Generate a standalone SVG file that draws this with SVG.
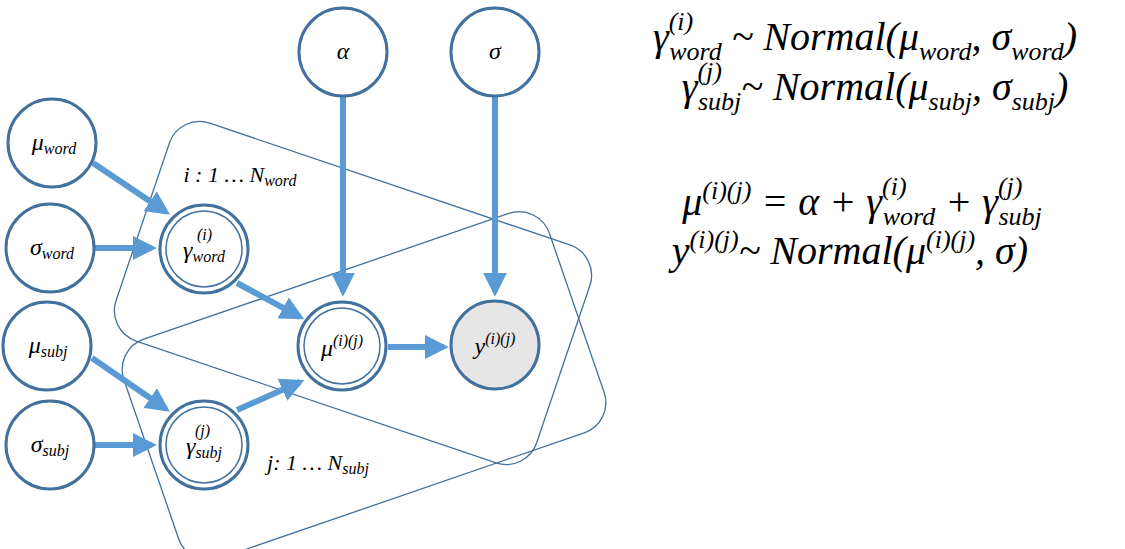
<svg xmlns="http://www.w3.org/2000/svg" width="1125" height="549" viewBox="0 0 1125 549">
<style>
.n{fill:#fff;stroke:#41719c;stroke-width:3}
.n2{fill:none;stroke:#41719c;stroke-width:1.5}
.p{fill:none;stroke:#41719c;stroke-width:1.3}
.e{stroke:#5b9bd5;stroke-width:6;fill:none;marker-end:url(#a)}
text{font-family:"Liberation Serif","DejaVu Serif",serif;font-style:italic;fill:#000}
.t{font-size:24px;text-anchor:middle}
.s{font-size:16px}
.q{font-size:40px;text-anchor:middle}
.qs{font-size:26px}
</style>
<defs>
<marker id="a" markerWidth="4" markerHeight="4" refX="3.2" refY="2" orient="auto" markerUnits="strokeWidth"><path d="M0,0L4,2L0,4z" fill="#5b9bd5"/></marker>
</defs>
<g id="plates">
<rect class="p" x="-222" y="-115" width="444" height="230" rx="32" transform="translate(353,293) rotate(18.7)"/>
<rect class="p" x="-225" y="-116" width="450" height="232" rx="32" transform="translate(364,386) rotate(-19)"/>
</g>
<g id="connectors">
<line class="e" x1="93" y1="163" x2="166" y2="212"/>
<line class="e" x1="95" y1="248" x2="152" y2="248"/>
<line class="e" x1="237" y1="283" x2="300" y2="317"/>
<line class="e" x1="343" y1="97" x2="343" y2="292"/>
<line class="e" x1="495" y1="97" x2="495" y2="292"/>
<line class="e" x1="388" y1="347" x2="444" y2="347"/>
<line class="e" x1="92" y1="358" x2="166" y2="409"/>
<line class="e" x1="95" y1="445" x2="152" y2="445"/>
<line class="e" x1="237" y1="410" x2="300" y2="382"/>
</g>
<g id="n-muword"><circle class="n" cx="52" cy="143" r="44"/><text class="t" x="54" y="150">μ<tspan class="s" dy="4">word</tspan></text></g>
<g id="n-sigword"><circle class="n" cx="50" cy="248" r="44"/><text class="t" x="52" y="255">σ<tspan class="s" dy="4">word</tspan></text></g>
<g id="n-musubj"><circle class="n" cx="47" cy="346" r="44"/><text class="t" x="48" y="353">μ<tspan class="s" dy="4">subj</tspan></text></g>
<g id="n-sigsubj"><circle class="n" cx="50" cy="445" r="44"/><text class="t" x="50" y="452">σ<tspan class="s" dy="4">subj</tspan></text></g>
<g id="n-alpha"><circle class="n" cx="343" cy="52" r="44"/><text class="t" x="343" y="59">α</text></g>
<g id="n-sigma"><circle class="n" cx="495" cy="52" r="44"/><text class="t" x="495" y="59">σ</text></g>
<g id="n-gword"><circle class="n" cx="204" cy="249" r="44"/><circle class="n2" cx="204" cy="249" r="38"/><text class="s" x="197" y="240">(i)</text><text class="t" x="204" y="258">γ<tspan class="s" dy="4">word</tspan></text></g>
<g id="n-gsubj"><circle class="n" cx="204" cy="445" r="44"/><circle class="n2" cx="204" cy="445" r="38"/><text class="s" x="195" y="436">(j)</text><text class="t" x="204" y="454">γ<tspan class="s" dy="4">subj</tspan></text></g>
<g id="n-mu"><circle class="n" cx="342" cy="346" r="44"/><circle class="n2" cx="342" cy="346" r="38"/><text class="t" x="342" y="356">μ<tspan class="s" dy="-10">(i)(j)</tspan></text></g>
<g id="n-y"><circle cx="495" cy="345" r="44" style="fill:#e6e6e6;stroke:#41719c;stroke-width:3"/><text class="t" x="495" y="354">y<tspan class="s" dy="-10">(i)(j)</tspan></text></g>
<text class="t" x="240" y="182" style="font-size:22px">i : 1  … N<tspan class="s" dy="4">word</tspan></text>
<text class="t" x="318" y="470" style="font-size:22px">j: 1  … N<tspan class="s" dy="4">subj</tspan></text>
<g id="equations">
<text class="q" x="865" y="50">γ<tspan class="qs" dy="-20">(i)</tspan><tspan class="qs" dx="-24" dy="30">word</tspan><tspan dy="-10"> ~ Normal(μ</tspan><tspan class="qs" dy="10">word</tspan><tspan dy="-10">, σ</tspan><tspan class="qs" dy="10">word</tspan><tspan dy="-10">)</tspan></text>
<text class="q" x="875" y="100">γ<tspan class="qs" dy="-20">(j)</tspan><tspan class="qs" dx="-24" dy="30">subj</tspan><tspan dy="-10">~ Normal(μ</tspan><tspan class="qs" dy="10">subj</tspan><tspan dy="-10">, σ</tspan><tspan class="qs" dy="10">subj</tspan><tspan dy="-10">)</tspan></text>
<text class="q" x="862" y="215">μ<tspan class="qs" dy="-16">(i)(j)</tspan><tspan dy="16"> =  α + γ</tspan><tspan class="qs" dy="-20">(i)</tspan><tspan class="qs" dx="-24" dy="30">word</tspan><tspan dy="-10"> + γ</tspan><tspan class="qs" dy="-20">(j)</tspan><tspan class="qs" dx="-24" dy="30">subj</tspan></text>
<text class="q" x="850" y="264">y<tspan class="qs" dy="-16">(i)(j)</tspan><tspan dy="16">~ Normal(μ</tspan><tspan class="qs" dy="-16">(i)(j)</tspan><tspan dy="16">, σ)</tspan></text>
</g>
</svg>
